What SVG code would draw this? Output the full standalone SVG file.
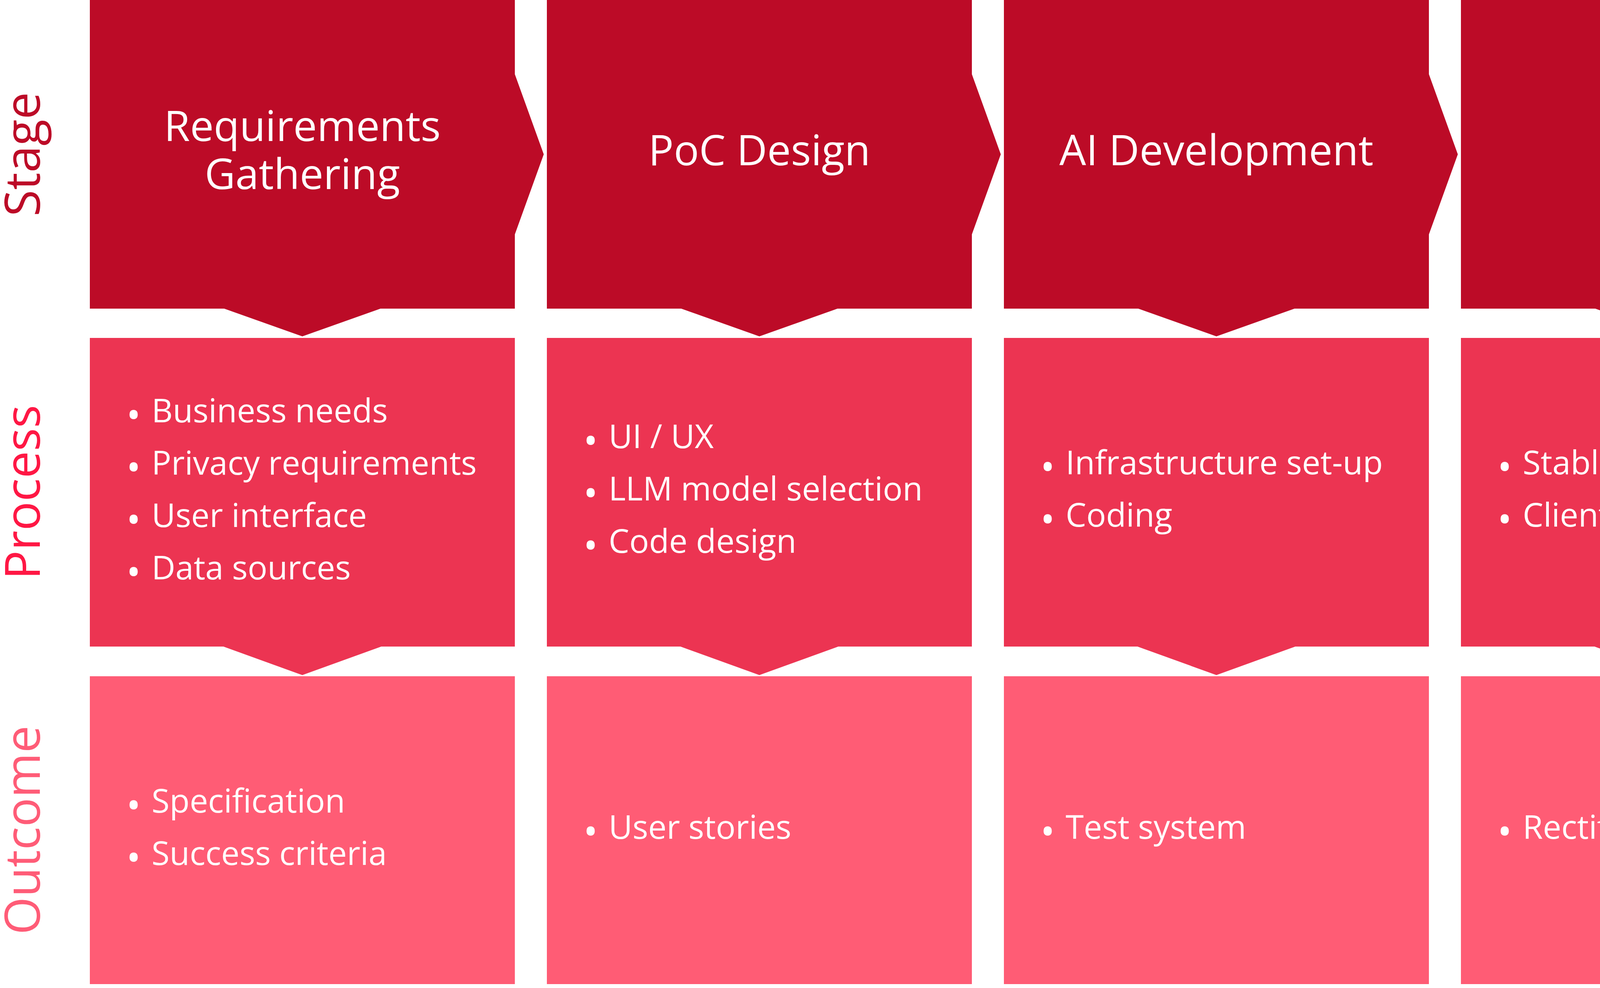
<svg xmlns="http://www.w3.org/2000/svg" width="6000" height="2529" viewBox="0 0 6000 2529">
<style>
text{font-family:"Open Sans","Liberation Sans",sans-serif;fill:#fff}
.st{fill:#BC0B27}.pr{fill:#EC3452}.oc{fill:#FF5C75}
.h{font-size:108px;text-anchor:middle}
.i{font-size:84px}
.b{text-anchor:middle;font-size:100px}
.lab{font-size:124px;text-anchor:middle}
</style>
<rect width="6000" height="2529" fill="#fff"/>
<g id="labels">
<text class="lab" transform="translate(102,395) rotate(-90)" style="fill:#BC0B27">Stage</text>
<text class="lab" transform="translate(102,1260) rotate(-90)" style="fill:#FF1744">Process</text>
<text class="lab" transform="translate(102,2125) rotate(-90)" style="fill:#FF5C77">Outcome</text>
</g>
<g id="connectors"></g>
<g id="stage1"><path class="st" d="M230,0H1318V190L1392,395L1318,600V790H974L774,861L574,790H230Z"/><text class="h" x="774" y="361">Requirements</text><text class="h" x="774" y="484">Gathering</text></g>
<g id="stage2"><path class="st" d="M1400,0H2488V190L2562,395L2488,600V790H2144L1944,861L1744,790H1400Z"/><text class="h" x="1944" y="423">PoC Design</text></g>
<g id="stage3"><path class="st" d="M2570,0H3658V190L3732,395L3658,600V790H3314L3114,861L2914,790H2570Z"/><text class="h" x="3114" y="423">AI Development</text></g>
<g id="stage4"><path class="st" d="M3740,0H4828V190L4902,395L4828,600V790H4484L4284,861L4084,790H3740Z"/><text class="h" x="4284" y="423">Testing</text></g>
<g id="stage5"><path class="st" d="M4910,0H5998V790H5654L5454,861L5254,790H4910Z"/><text class="h" x="5454" y="423">Success Decision</text></g>

<g id="process1"><path class="pr" d="M230,865H1318V1655H976L774,1728L572,1655H230Z"/>
<text class="i" y="1081"><tspan class="b" x="342" dy="17">•</tspan><tspan x="388" dy="-17">Business needs</tspan></text>
<text class="i" y="1215"><tspan class="b" x="342" dy="17">•</tspan><tspan x="388" dy="-17">Privacy requirements</tspan></text>
<text class="i" y="1349"><tspan class="b" x="342" dy="17">•</tspan><tspan x="388" dy="-17">User interface</tspan></text>
<text class="i" y="1483"><tspan class="b" x="342" dy="17">•</tspan><tspan x="388" dy="-17">Data sources</tspan></text></g>
<g id="process2"><path class="pr" d="M1400,865H2488V1655H2146L1944,1728L1742,1655H1400Z"/>
<text class="i" y="1147"><tspan class="b" x="1512" dy="17">•</tspan><tspan x="1558" dy="-17">UI / UX</tspan></text>
<text class="i" y="1281"><tspan class="b" x="1512" dy="17">•</tspan><tspan x="1558" dy="-17">LLM model selection</tspan></text>
<text class="i" y="1415"><tspan class="b" x="1512" dy="17">•</tspan><tspan x="1558" dy="-17">Code design</tspan></text></g>
<g id="process3"><path class="pr" d="M2570,865H3658V1655H3316L3114,1728L2912,1655H2570Z"/>
<text class="i" y="1214"><tspan class="b" x="2682" dy="17">•</tspan><tspan x="2728" dy="-17">Infrastructure set-up</tspan></text>
<text class="i" y="1348"><tspan class="b" x="2682" dy="17">•</tspan><tspan x="2728" dy="-17">Coding</tspan></text></g>
<g id="process4"><path class="pr" d="M3740,865H4828V1655H4486L4284,1728L4082,1655H3740Z"/>
<text class="i" y="1214"><tspan class="b" x="3852" dy="17">•</tspan><tspan x="3898" dy="-17">StableLogic testing</tspan></text>
<text class="i" y="1348"><tspan class="b" x="3852" dy="17">•</tspan><tspan x="3898" dy="-17">Client testing</tspan></text></g>
<g id="process5"><path class="pr" d="M4910,865H5998V1655H5656L5454,1728L5252,1655H4910Z"/>
<text class="i" y="1214"><tspan class="b" x="5022" dy="17">•</tspan><tspan x="5068" dy="-17">Test in business</tspan></text>
<text class="i" y="1348"><tspan class="b" x="5022" dy="17">•</tspan><tspan x="5068" dy="-17">Customer tests</tspan></text></g>

<g id="outcome1"><rect class="oc" x="230" y="1731" width="1088" height="788"/>
<text class="i" y="2080"><tspan class="b" x="342" dy="17">•</tspan><tspan x="388" dy="-17">Specification</tspan></text>
<text class="i" y="2214"><tspan class="b" x="342" dy="17">•</tspan><tspan x="388" dy="-17">Success criteria</tspan></text></g>
<g id="outcome2"><rect class="oc" x="1400" y="1731" width="1088" height="788"/>
<text class="i" y="2147"><tspan class="b" x="1512" dy="17">•</tspan><tspan x="1558" dy="-17">User stories</tspan></text></g>
<g id="outcome3"><rect class="oc" x="2570" y="1731" width="1088" height="788"/>
<text class="i" y="2147"><tspan class="b" x="2682" dy="17">•</tspan><tspan x="2728" dy="-17">Test system</tspan></text></g>
<g id="outcome4"><rect class="oc" x="3740" y="1731" width="1088" height="788"/>
<text class="i" y="2147"><tspan class="b" x="3852" dy="17">•</tspan><tspan x="3898" dy="-17">Rectify issues</tspan></text></g>
<g id="outcome5"><rect class="oc" x="4910" y="1731" width="1088" height="788"/>
<text class="i" y="2147"><tspan class="b" x="5022" dy="17">•</tspan><tspan x="5068" dy="-17">Decide on outcome</tspan></text></g>
</svg>
